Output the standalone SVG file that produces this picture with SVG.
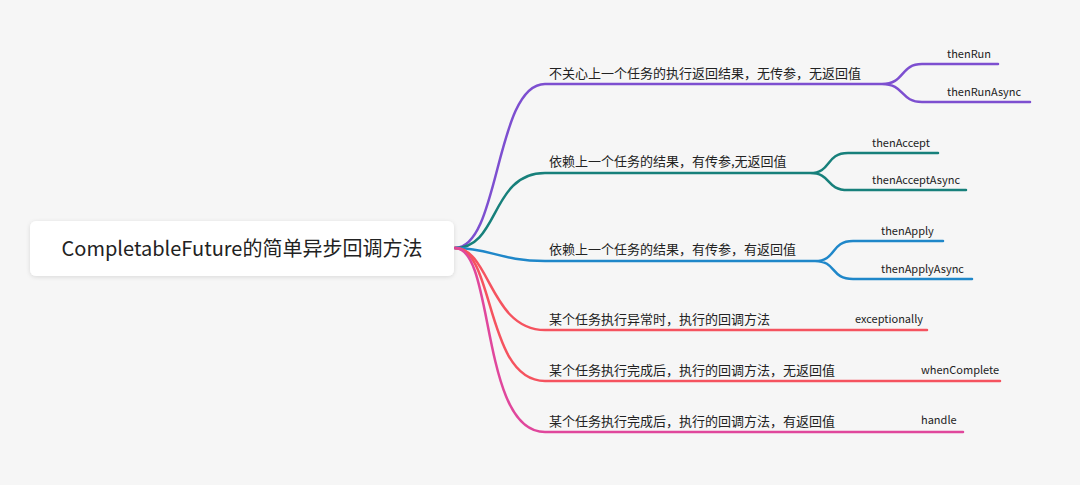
<svg xmlns="http://www.w3.org/2000/svg" width="1080" height="485" viewBox="0 0 1080 485">
<defs>
<filter id="sh" x="-10%" y="-30%" width="120%" height="160%"><feDropShadow dx="0" dy="1" stdDeviation="2" flood-color="#000" flood-opacity="0.12"/></filter>
</defs>
<style>
text{font-family:"Noto Sans CJK SC","Noto Sans",sans-serif;fill:#222}
.m{font-size:13px}
.s{font-size:11px}
path{fill:none;stroke-width:2.5;stroke-linecap:round}
</style>
<rect width="1080" height="485" fill="#f6f6f6"/>
<g id="connectors">
<path stroke="#7d4fd0" d="M455,248 C500,248 495,84 545,84 L882,84 M882,84 C905,84 900,64 922,64 L998,64 M882,84 C905,84 900,102 922,102 L1030,102"/>
<path stroke="#17807b" d="M455,248 C500,248 490,173 545,173 L810,173 M810,173 C832,173 825,153 848,153 L938,153 M810,173 C832,173 825,190 848,190 L966,190"/>
<path stroke="#1f87c9" d="M455,248 C490,248 500,261 545,261 L815,261 M815,261 C837,261 830,241 853,241 L943,241 M815,261 C837,261 830,279 853,279 L972,279"/>
<path stroke="#f5535f" d="M455,248 C490,248 490,330 545,330 L927,330"/>
<path stroke="#f5535f" d="M455,248 C495,248 485,381 545,381 L1000,381"/>
<path stroke="#e0479c" d="M455,248 C495,248 480,432 545,432 L963,432"/>
</g>
<g id="root">
<rect x="30" y="221" width="424" height="55" rx="6" fill="#fff" filter="url(#sh)"/>
<text x="242" y="256" text-anchor="middle" font-size="20">CompletableFuture的简单异步回调方法</text>
</g>
<g id="n1"><text class="m" x="549" y="78">不关心上一个任务的执行返回结果，无传参，无返回值</text></g>
<g id="n1a"><text class="s" x="947" y="58">thenRun</text></g>
<g id="n1b"><text class="s" x="947" y="96">thenRunAsync</text></g>
<g id="n2"><text class="m" x="549" y="166">依赖上一个任务的结果，有传参,无返回值</text></g>
<g id="n2a"><text class="s" x="872" y="147">thenAccept</text></g>
<g id="n2b"><text class="s" x="872" y="184">thenAcceptAsync</text></g>
<g id="n3"><text class="m" x="549" y="254">依赖上一个任务的结果，有传参，有返回值</text></g>
<g id="n3a"><text class="s" x="881" y="235">thenApply</text></g>
<g id="n3b"><text class="s" x="881" y="273">thenApplyAsync</text></g>
<g id="n4"><text class="m" x="549" y="324">某个任务执行异常时，执行的回调方法</text></g>
<g id="n4a"><text class="s" x="855" y="323">exceptionally</text></g>
<g id="n5"><text class="m" x="549" y="375">某个任务执行完成后，执行的回调方法，无返回值</text></g>
<g id="n5a"><text class="s" x="921" y="374">whenComplete</text></g>
<g id="n6"><text class="m" x="549" y="426">某个任务执行完成后，执行的回调方法，有返回值</text></g>
<g id="n6a"><text class="s" x="921" y="424">handle</text></g>
</svg>
